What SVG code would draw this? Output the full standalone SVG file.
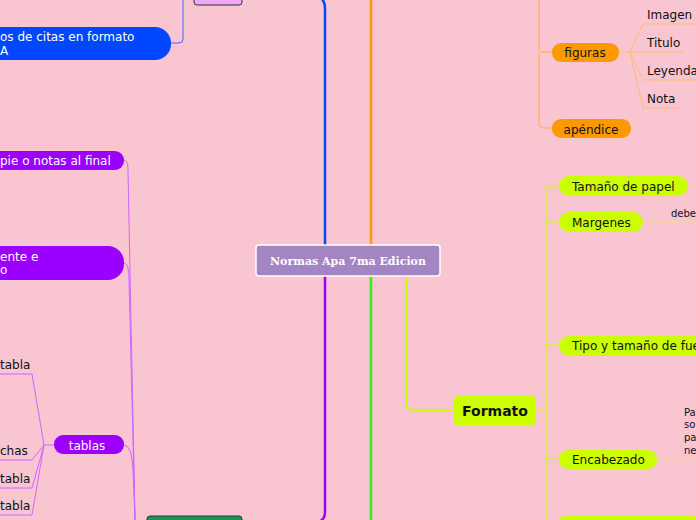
<svg xmlns="http://www.w3.org/2000/svg" width="696" height="520" viewBox="0 0 696 520">
<style>
text{font-family:"DejaVu Sans",sans-serif;font-size:12px}
.w{fill:#fff}.k{fill:#111}
.c{fill:none}
.s{font-size:10px}
</style>
<rect width="696" height="520" fill="#f8c5d0"/>
<g id="connectors" class="c">
<path d="M325 245V8Q325 0 318 -5" stroke="#0047ff" stroke-width="2.5"/>
<path d="M325 276V512Q325 520 318 522" stroke="#9b00ff" stroke-width="2.5"/>
<path d="M371 245V0" stroke="#ff9900" stroke-width="2.5"/>
<path d="M371 276V520" stroke="#33ee22" stroke-width="2.5"/>
<path d="M406 276V402Q406 410 414 410H454" stroke="#ccff00" stroke-width="2"/>
<path d="M183 0V39Q183 43 179 43H171" stroke="#4466ff" stroke-width="1"/>
<path d="M124 160Q128 160 128 170L135 520M124 263Q129 263 129 280L135 520M124 445Q132 445 133 470L135 520" stroke="#cc66ff" stroke-width="1"/>
<path d="M54 445H44L32 374H0M44 445L32 460H0M44 445L32 488H0M44 445L32 515H0" stroke="#cc66ff" stroke-width="1"/>
<path d="M552 52H544Q539 52 539 47V0M552 128H544Q539 128 539 123V52" stroke="#ffaa44" stroke-width="1"/>
<path d="M619 52H630L643 24H696M630 52H684M630 52L643 80H696M630 52L643 108H680" stroke="#ffbb77" stroke-width="1"/>
<path d="M536 410H546M559 186H551Q546 186 546 191V520M546 222H559M546 345H559M546 459H559" stroke="#ccff00" stroke-width="1"/>
<path d="M643 222H696M657 459H696M688 186H696" stroke="#eedd88" stroke-width="1"/>
</g>
<g id="center"><rect x="256" y="245" width="184" height="31" rx="3" fill="#a385c3" stroke="#fff" stroke-width="1.5"/><text x="348" y="265" text-anchor="middle" style="font-family:'DejaVu Serif',serif;font-size:11px;font-weight:bold" class="w">Normas Apa 7ma Edicion</text></g>
<g id="top-pink"><rect x="194" y="-8" width="48" height="13" rx="3" fill="#eeaaf5" stroke="#333"/></g>
<g id="citas"><rect x="-20" y="27" width="191" height="33" rx="16" fill="#0047ff"/><text x="0" y="41" class="w">os de citas en formato</text><text x="0" y="55" class="w">A</text></g>
<g id="pie"><rect x="-20" y="151" width="144" height="19" rx="9" fill="#9b00ff"/><text x="0" y="165" class="w">pie o notas al final</text></g>
<g id="ente"><rect x="-20" y="246" width="144" height="34" rx="16" fill="#9b00ff"/><text x="0" y="261" class="w">ente e</text><text x="0" y="274" class="w">o</text></g>
<g id="tablas"><rect x="54" y="435" width="70" height="19" rx="9" fill="#9b00ff"/><text x="87" y="450" text-anchor="middle" class="w">tablas</text></g>
<g id="tl1"><text x="0" y="369" class="k">tabla</text></g>
<g id="tl2"><text x="0" y="455" class="k">chas</text></g>
<g id="tl3"><text x="0" y="483" class="k">tabla</text></g>
<g id="tl4"><text x="0" y="510" class="k">tabla</text></g>
<g id="green-bottom"><rect x="147" y="516" width="95" height="12" rx="3" fill="#119955" stroke="#333"/></g>
<g id="figuras"><rect x="552" y="43" width="67" height="19" rx="9" fill="#ff9900"/><text x="585" y="57" text-anchor="middle" class="k">figuras</text></g>
<g id="apendice"><rect x="552" y="119" width="79" height="19" rx="9" fill="#ff9900"/><text x="591" y="134" text-anchor="middle" class="k">apéndice</text></g>
<g id="imagen"><text x="647" y="19" class="k">Imagen</text></g>
<g id="titulo"><text x="647" y="47" class="k">Titulo</text></g>
<g id="leyenda"><text x="647" y="75" class="k">Leyenda</text></g>
<g id="nota"><text x="647" y="103" class="k">Nota</text></g>
<g id="formato"><rect x="454" y="396" width="82" height="29" rx="4" fill="#ccff00"/><text x="495" y="416" text-anchor="middle" style="font-size:14px;font-weight:bold" class="k">Formato</text></g>
<g id="papel"><rect x="559" y="176" width="129" height="20" rx="10" fill="#ccff00"/><text x="572" y="191" class="k">Tamaño de papel</text></g>
<g id="margenes"><rect x="559" y="212" width="84" height="20" rx="10" fill="#ccff00"/><text x="572" y="227" class="k">Margenes</text></g>
<g id="debe"><text x="671" y="217" class="k s">debe</text></g>
<g id="fuente"><rect x="559" y="336" width="150" height="20" rx="10" fill="#ccff00"/><text x="572" y="350" class="k">Tipo y tamaño de fue</text></g>
<g id="encabezado"><rect x="559" y="450" width="98" height="19" rx="9" fill="#ccff00"/><text x="572" y="464" class="k">Encabezado</text></g>
<g id="pa"><text class="k s"><tspan x="684" y="416">Pa</tspan><tspan x="684" y="428">so</tspan><tspan x="684" y="441">pa</tspan><tspan x="684" y="454">ne</tspan></text></g>
<g id="yb"><rect x="559" y="516" width="140" height="12" rx="6" fill="#ccff00"/></g>
</svg>
